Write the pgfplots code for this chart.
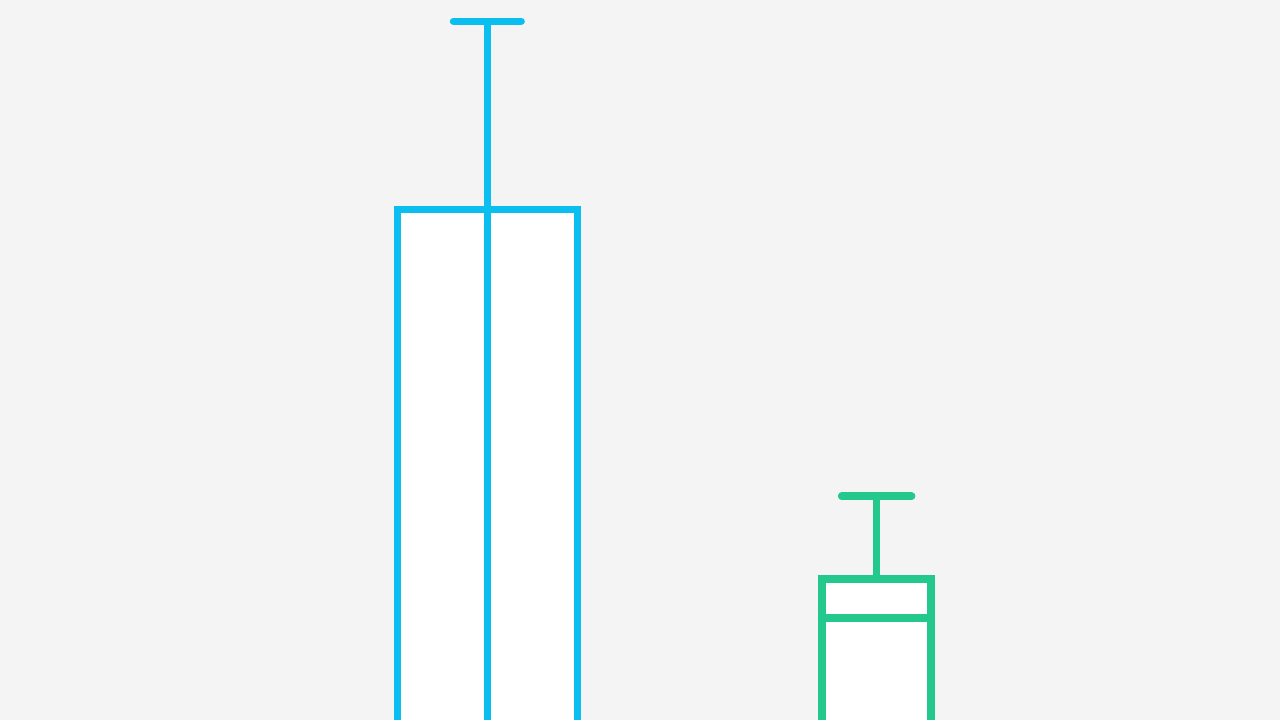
\documentclass[border=0pt]{standalone}
\usepackage{pgfplots}
\pgfplotsset{compat=1.18}
\definecolor{bgc}{RGB}{244,244,244}
\definecolor{cyanc}{RGB}{10,190,240}
\definecolor{greenc}{RGB}{34,200,140}
\begin{document}
\begin{tikzpicture}
\fill[bgc] (0,0) rectangle (640bp,360bp);
\begin{axis}[
  anchor=south west, at={(0,-50bp)},
  width=640bp, height=410bp, scale only axis,
  xmin=0, xmax=1280, ymin=0, ymax=820,
  hide axis,
  ybar, bar shift=0pt,
]
\addplot[draw=cyanc, fill=white, line width=3.75bp, bar width=180,
  error bars/.cd, y dir=both, y explicit,
  error bar style={draw=cyanc, line width=3.75bp},
  error mark options={rotate=90, draw=cyanc, line width=3.75bp, mark size=16.9bp, line cap=round}]
  coordinates {(487.3,610.5) += (0,188.2) -= (0,620)};
\addplot[draw=greenc, fill=white, line width=3.75bp, bar width=108.8,
  error bars/.cd, y dir=plus, y explicit,
  error bar style={draw=greenc, line width=3.75bp},
  error mark options={rotate=90, draw=greenc, line width=3.75bp, mark size=17.5bp, line cap=round}]
  coordinates {(876.6,241.2) += (0,82.6) -= (0,0)};
\addplot[draw=greenc, fill=none, line width=3.75bp, bar width=108.8]
  coordinates {(876.6,202)};
\end{axis}
\pgfresetboundingbox
\path (0,0) rectangle (640bp,360bp);
\end{tikzpicture}
\end{document}
